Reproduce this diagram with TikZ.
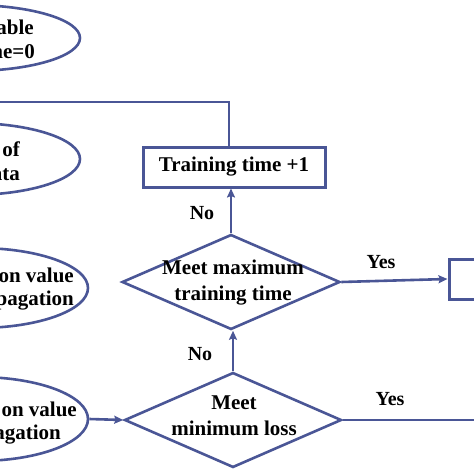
\documentclass[tikz,border=0pt]{standalone}
\usepackage{fontspec}
\setmainfont{Liberation Serif}
\usetikzlibrary{shapes.geometric,arrows.meta}
\definecolor{lineblue}{RGB}{74,86,150}
\tikzset{
  ell/.style={draw=lineblue, line width=2.6pt, ellipse, inner sep=0pt},
  dia/.style={draw=lineblue, line width=2.6pt, diamond, inner sep=0pt},
  boxnode/.style={draw=lineblue, line width=3pt, rectangle, inner sep=0pt},
  txt/.style={font=\bfseries\fontsize{21}{26}\selectfont, align=center, inner sep=0pt, text=black},
  rtxt/.style={font=\bfseries\fontsize{21}{26}\selectfont, inner sep=0pt, anchor=east, text=black},
  lab/.style={font=\bfseries\fontsize{20}{24}\selectfont, inner sep=0pt, text=black},
  conn/.style={draw=lineblue, line width=2.6pt},
  arr/.style={conn, -{Stealth[length=9pt,width=8pt,inset=1.5pt]}}
}
\begin{document}
\begin{tikzpicture}[x=1pt,y=-1pt]
\useasboundingbox (0,0) rectangle (474,474);
\clip (0,0) rectangle (474,474);
\fill[white] (0,0) rectangle (474,474);
% ellipses on the left
\node[ell, minimum width=220pt, minimum height=66pt] (e1) at (-30,38) {};
\node[rtxt] (e1a) at (34,27) {able};
\node[rtxt] (e1b) at (35,52) {me=0};
\node[ell, minimum width=220pt, minimum height=72pt] (e2) at (-30,159) {};
\node[rtxt] (e2a) at (20,149) {of};
\node[rtxt] (e2b) at (20,175) {ata};
\node[ell, minimum width=220pt, minimum height=80pt] (e3) at (-22,288) {};
\node[rtxt] (e3a) at (74,275) {on value};
\node[rtxt] (e3b) at (74,301) {pagation};
\node[ell, minimum width=220pt, minimum height=84pt] (e4) at (-22,419) {};
\node[rtxt] (e4a) at (77,409) {on value};
\node[rtxt] (e4b) at (61,435) {agation};
% boxes
\node[boxnode, minimum width=182pt, minimum height=40pt] (b1) at (234,167) {};
\node[txt] (b1t) at (b1) {Training time +1};
\node[boxnode, minimum width=62pt, minimum height=40pt] (b2) at (480,279) {};
% diamonds
\node[dia, minimum width=218pt, minimum height=95pt] (d1) at (231,282) {};
\node[txt] (d1t) at (233,283) {Meet maximum\\training time};
\node[dia, minimum width=217pt, minimum height=95pt] (d2) at (233,420) {};
\node[txt] (d2t) at (234,416) {Meet\\minimum loss};
% free ends
\coordinate (L) at (-10,102);
\coordinate (R) at (480,420);
% connectors
\draw[conn] (L) -| ([xshift=-5pt]b1.north);
\draw[arr] (d1.north) -- (d1.north |- b1.south);
\draw[arr] (d2.north) -- (d2.north |- d1.south);
\draw[arr] (e4.east) -- (d2.west);
\draw[arr] (d1.east) -- (b2.west);
\draw[conn] (d2.east) -- (R);
% labels
\node[lab] (no1) at (202,213) {No};
\node[lab] (no2) at (200,354) {No};
\node[lab] (yes1) at (381,262) {Yes};
\node[lab] (yes2) at (390,399) {Yes};
\end{tikzpicture}
\end{document}
